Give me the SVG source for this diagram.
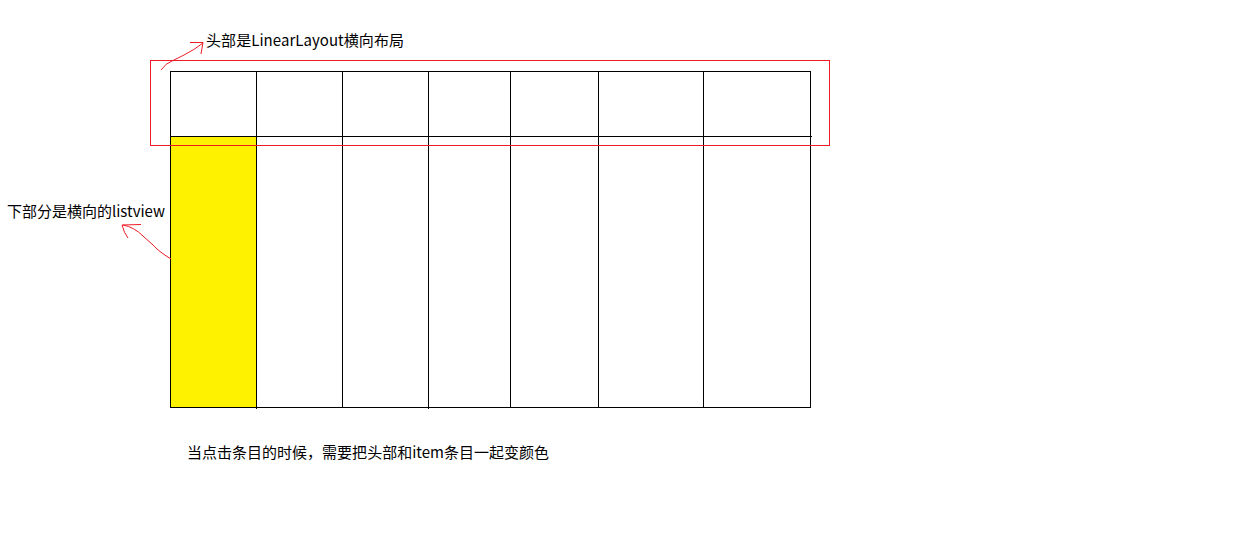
<svg xmlns="http://www.w3.org/2000/svg" width="1244" height="548" viewBox="0 0 1244 548">
<style>
.g{fill:none;stroke:#000;stroke-width:1}
.r{fill:none;stroke:#ED1C24;stroke-width:1}
.t{font-family:"Microsoft YaHei","Noto Sans CJK SC","Noto Sans",sans-serif;font-size:15px;fill:#000}
</style>
<rect width="1244" height="548" fill="#fff"/>
<g id="list-item-selected">
<rect x="170" y="136" width="86" height="271" fill="#FFF200"/>
</g>
<g id="grid">
<rect class="g" x="170.5" y="71.5" width="640" height="336"/>
<line class="g" x1="170" y1="136.5" x2="812" y2="136.5"/>
<line class="g" x1="256.5" y1="71" x2="256.5" y2="409"/>
<line class="g" x1="342.5" y1="71" x2="342.5" y2="408"/>
<line class="g" x1="428.5" y1="71" x2="428.5" y2="409"/>
<line class="g" x1="510.5" y1="71" x2="510.5" y2="408"/>
<line class="g" x1="598.5" y1="71" x2="598.5" y2="408"/>
<line class="g" x1="703.5" y1="71" x2="703.5" y2="408"/>
</g>
<g id="header-frame">
<rect class="r" x="150.5" y="60.5" width="679" height="85"/>
</g>
<g id="connectors">
<path class="r" d="M161,70 Q166,63 172,61 L184,55 Q194,50 203,43"/>
<path class="r" d="M190,42.5 L203,42.5 L201,54"/>
<path class="r" d="M171,259 Q158,251 153,245 L143,236 Q134,227 123,225"/>
<path class="r" d="M141,224.5 L122,225 Q124,233 128,238"/>
</g>
<g id="label-header">
<text class="t" x="206" y="46" textLength="198" lengthAdjust="spacing">头部是LinearLayout横向布局</text>
</g>
<g id="label-list">
<text class="t" x="7" y="217" textLength="158" lengthAdjust="spacing">下部分是横向的listview</text>
</g>
<g id="label-note">
<text class="t" x="187" y="458" textLength="362" lengthAdjust="spacing">当点击条目的时候，需要把头部和item条目一起变颜色</text>
</g>
</svg>
